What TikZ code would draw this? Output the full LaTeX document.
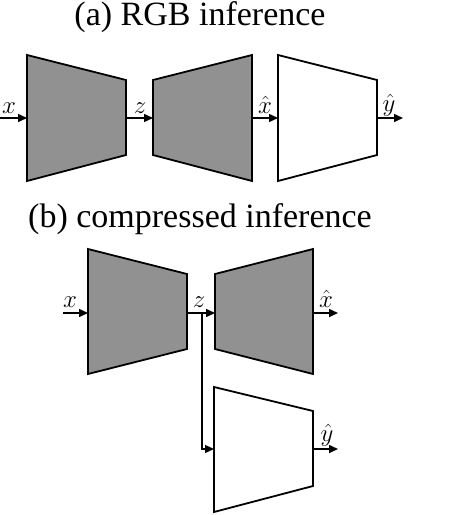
\documentclass[tikz,border=0pt]{standalone}
\usepackage{fontspec}
\setmainfont{Liberation Serif}
\usetikzlibrary{arrows.meta}
\tikzset{
  block/.style={draw=black, line width=1.8pt, line join=miter},
  codec/.style={block, fill=black!43},
  task/.style={block, fill=white},
  flow/.style={draw=black, line width=1.5pt, -{Triangle[length=9pt,width=8pt]}},
  branch/.style={draw=black, line width=1.3pt, -{Triangle[length=9pt,width=8pt]}},
  lbl/.style={anchor=base, inner sep=0pt, font=\fontsize{26}{26}\selectfont},
  ttl/.style={anchor=base, inner sep=0pt, font=\fontsize{34}{34}\selectfont}
}
\begin{document}
\begin{tikzpicture}[x=1pt,y=-1pt]
\useasboundingbox (0,0) rectangle (460,515);
% ---------- (a) ----------
\node[ttl] (ta) at (200,25) {(a) RGB inference};
\path[codec] (27,55) -- (126,80) -- (126,155) -- (27,181) -- cycle;
\path[codec] (153,80) -- (252,55) -- (252,181) -- (153,155) -- cycle;
\path[task] (278,55) -- (377,80) -- (377,155) -- (278,181) -- cycle;
\coordinate (ain) at (0,118);
\coordinate (e1l) at (27,118);
\coordinate (e1r) at (126,118);
\coordinate (d1l) at (153,118);
\coordinate (d1r) at (252,118);
\coordinate (t1l) at (278,118);
\coordinate (t1r) at (377,118);
\coordinate (aout) at (403,118);
\draw[flow] (ain) -- (e1l);
\draw[flow] (e1r) -- (d1l);
\draw[flow] (d1r) -- (t1l);
\draw[flow] (t1r) -- (aout);
\node[lbl] (ax) at (9,113) {$x$};
\node[lbl] (az) at (140,113) {$z$};
\node[lbl] (axh) at (265,113) {$\hat{x}$};
\node[lbl] (ayh) at (389,111) {$\hat{y}$};
% ---------- (b) ----------
\node[ttl] (tb) at (200,227) {(b) compressed inference};
\path[codec] (88,249) -- (187,274) -- (187,349) -- (88,374) -- cycle;
\path[codec] (215,274) -- (313,249) -- (313,374) -- (215,349) -- cycle;
\path[task] (214,387) -- (313,411) -- (313,486) -- (214,512) -- cycle;
\coordinate (bin) at (63,313);
\coordinate (e2l) at (88,313);
\coordinate (e2r) at (187,313);
\coordinate (d2l) at (215,313);
\coordinate (d2r) at (313,313);
\coordinate (bout) at (338,313);
\coordinate (split) at (202,313);
\coordinate (corner) at (202,449);
\coordinate (t2l) at (214,449);
\coordinate (t2r) at (313,449);
\coordinate (bout2) at (338,449);
\draw[flow] (bin) -- (e2l);
\draw[flow] (e2r) -- (d2l);
\draw[flow] (d2r) -- (bout);
\draw[branch] (split) -- (corner) -- (t2l);
\draw[flow] (t2r) -- (bout2);
\node[lbl] (bx) at (70,307) {$x$};
\node[lbl] (bz) at (199,307) {$z$};
\node[lbl] (bxh) at (326,307) {$\hat{x}$};
\node[lbl] (byh) at (327,441) {$\hat{y}$};
\end{tikzpicture}
\end{document}
